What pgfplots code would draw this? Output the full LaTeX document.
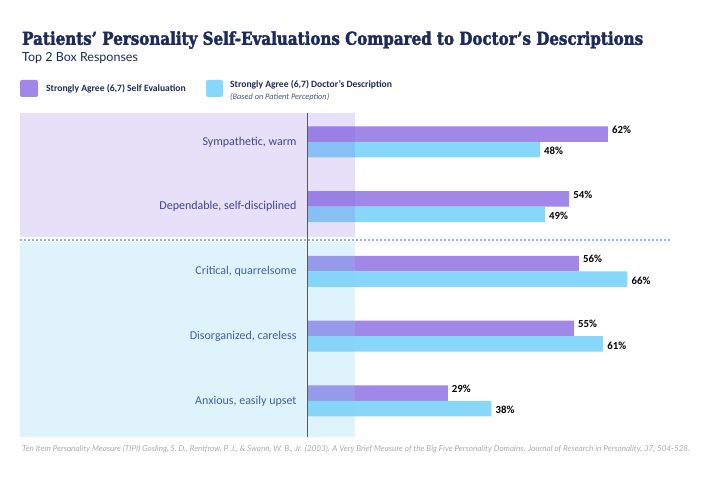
\documentclass[border=0pt]{standalone}
\usepackage{pgfplots}
\pgfplotsset{compat=1.18}
\usepackage{fontspec}
\setmainfont{Carlito}
\newfontfamily\titlefont[UprightFeatures={FakeBold=2.5}]{DejaVu Serif Bold}
\newfontfamily\latofont{Lato}
\definecolor{navy}{HTML}{1C2B5A}
\definecolor{catblue}{HTML}{2E3C7E}
\definecolor{selfc}{HTML}{A087E8}
\definecolor{docc}{HTML}{87D7FB}
\definecolor{lavov}{RGB}{130,100,220}
\definecolor{blueov}{RGB}{128,208,244}
\definecolor{dashc}{HTML}{9AAEE0}
\definecolor{footc}{HTML}{ABABAB}
\begin{document}
\begin{tikzpicture}
\useasboundingbox (0pt,0pt) rectangle (705pt,480pt);
% title
\node[anchor=west,inner sep=0pt,text=navy] at (22pt,440pt) {\resizebox{621pt}{13.5pt}{\titlefont Patients’ Personality Self-Evaluations Compared to Doctor’s Descriptions}};
\node[anchor=west,inner sep=0pt,text=navy] at (22pt,422pt) {\latofont\fontsize{12.5}{14}\selectfont Top 2 Box Responses};
% legend
\fill[selfc,rounded corners=2pt] (20pt,400pt) rectangle (38pt,383pt);
\node[anchor=west,inner sep=0pt,text=navy] at (46pt,391.5pt) {\fontsize{9.6}{10}\selectfont\bfseries Strongly Agree (6,7) Self Evaluation};
\fill[docc,rounded corners=2pt] (206pt,400pt) rectangle (223pt,383pt);
\node[anchor=west,inner sep=0pt,text=navy] at (230pt,395pt) {\fontsize{9.6}{10}\selectfont\bfseries Strongly Agree (6,7) Doctor’s Description};
\node[anchor=west,inner sep=0pt,text=navy!80] at (230pt,382.5pt) {\fontsize{8.3}{9}\selectfont\itshape (Based on Patient Perception)};
\begin{axis}[
  at={(307pt,43.4pt)}, anchor=south west,
  scale only axis,
  width=364.1pt, height=323.75pt,
  xmin=0, xmax=75,
  ymin=-0.55, ymax=4.45,
  axis line style={draw=none},
  tick style={draw=none},
  xtick=\empty,
  ytick={0,1,2,3,4},
  yticklabels={{Anxious, easily upset},{Disorganized, careless},{Critical, quarrelsome},{Dependable, self-disciplined},{Sympathetic, warm}},
  yticklabel style={font=\fontsize{12}{14}\selectfont, text=catblue, inner sep=0pt, xshift=-6pt},
  xbar, bar width=15.5pt,
  point meta=x,
  /pgf/number format/assume math mode=true,
  nodes near coords={\pgfmathprintnumber{\pgfplotspointmeta}\%},
  nodes near coords style={anchor=west, font=\fontsize{10.8}{12}\selectfont\bfseries, text=black, inner sep=0pt, xshift=4pt},
  clip=false,
]
\addplot[fill=selfc, draw=none, bar shift=7.75pt, nodes near coords style={yshift=4.5pt}] coordinates {(29,0) (55,1) (56,2) (54,3) (62,4)};
\addplot[fill=docc, draw=none, bar shift=-7.75pt, nodes near coords style={yshift=-1.5pt}] coordinates {(38,0) (61,1) (66,2) (49,3) (48,4)};
\end{axis}
% panels overlay
\fill[lavov, fill opacity=0.2] (20pt,367pt) rectangle (355pt,243pt);
\fill[blueov, fill opacity=0.25] (20pt,238pt) rectangle (355pt,43pt);
\draw[dashc, line width=1.5pt, dash pattern=on 2pt off 2pt] (20pt,240pt) -- (670pt,240pt);
\draw[black!65, line width=0.6pt] (307pt,367pt) -- (307pt,43pt);
% footnote
\node[anchor=west,inner sep=0pt,text=footc] at (22pt,31pt) {\latofont\fontsize{8.1}{9}\selectfont\itshape Ten Item Personality Measure (TIPI) Gosling, S. D., Rentfrow, P. J., \& Swann, W. B., Jr. (2003). A Very Brief Measure of the Big Five Personality Domains. Journal of Research in Personality, 37, 504-528.};
\end{tikzpicture}
\end{document}
